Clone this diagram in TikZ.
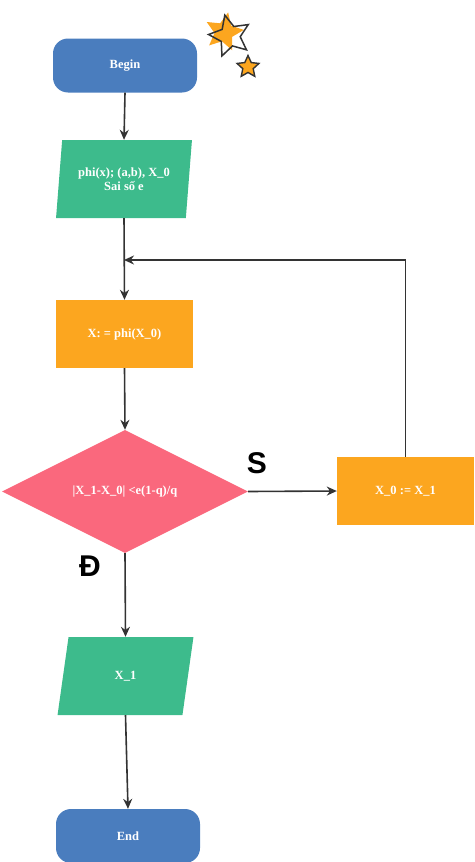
\documentclass[tikz,border=0pt]{standalone}
\usepackage{fontspec}
\setmainfont{Liberation Serif}
\newfontfamily\lsans{Liberation Sans}
\usetikzlibrary{shapes.geometric,arrows.meta}
\definecolor{cblue}{RGB}{74,125,190}
\definecolor{cgreen}{RGB}{61,187,140}
\definecolor{corange}{RGB}{252,166,31}
\definecolor{cpink}{RGB}{250,104,125}
\definecolor{cline}{RGB}{51,51,51}
\tikzset{
  base/.style={inner sep=2pt, text=white, font=\fontsize{12.5}{14}\selectfont\bfseries, align=center},
  term/.style={base, fill=cblue, rounded corners=15pt, minimum width=144pt, minimum height=54pt},
  io/.style={base, fill=cgreen, trapezium, trapezium left angle=80, trapezium right angle=100, trapezium stretches=true, minimum width=136pt, minimum height=78pt},
  proc/.style={base, fill=corange, minimum width=137pt, minimum height=68pt},
  dec/.style={base, fill=cpink, diamond, aspect=2, minimum width=246pt, minimum height=123pt, inner sep=0pt},
  conn/.style={draw=cline, line width=1.6pt, -{Stealth[length=10pt,width=9pt]}},
  lbl/.style={font=\lsans\bfseries\fontsize{30}{32}\selectfont, text=black, inner sep=0pt},
  mystar/.style={star, star points=5, star point ratio=2.1, inner sep=0pt}
}
\begin{document}
\begin{tikzpicture}[x=1pt,y=-1pt]
\useasboundingbox (0,0) rectangle (474,862);
% stars
\node[mystar, fill=corange, minimum size=40pt, rotate=-12] (s1) at (224,32) {};
\node[mystar, draw=cline, line width=1.5pt, minimum size=43pt, rotate=14] (s2) at (230,36) {};
\node[mystar, fill=corange, draw=cline, line width=1.4pt, minimum size=23pt, rotate=0] (s3) at (248,67) {};
% nodes
\node[term] (b) at (125,65.5) {Begin};
\node[io] (p1) at (124,179) {phi(x); (a,b), X\_0\\Sai số e};
\node[proc] (r1) at (124.5,334) {X: = phi(X\_0)};
\node[dec] (d) at (125,491.5) {|X\_1-X\_0| <e(1-q)/q};
\node[proc] (r2) at (405.5,491) {X\_0 := X\_1};
\node[io] (p2) at (125.5,676) {X\_1};
\node[term] (e) at (128,836) {End};
\node[lbl] (ls) at (257,463) {S};
\node[lbl] (ld) at (90,566) {Đ};
\coordinate (j) at (124,260);
% connectors
\draw[conn] (b.south) -- (p1.north);
\draw[conn] (p1.south) -- (r1.north);
\draw[conn] (r1.south) -- (d.north);
\draw[conn] (d.east) -- (r2.west);
\draw[conn] (r2.north) |- (j);
\draw[conn] (d.south) -- (p2.north);
\draw[conn] (p2.south) -- (e.north);
\end{tikzpicture}
\end{document}
